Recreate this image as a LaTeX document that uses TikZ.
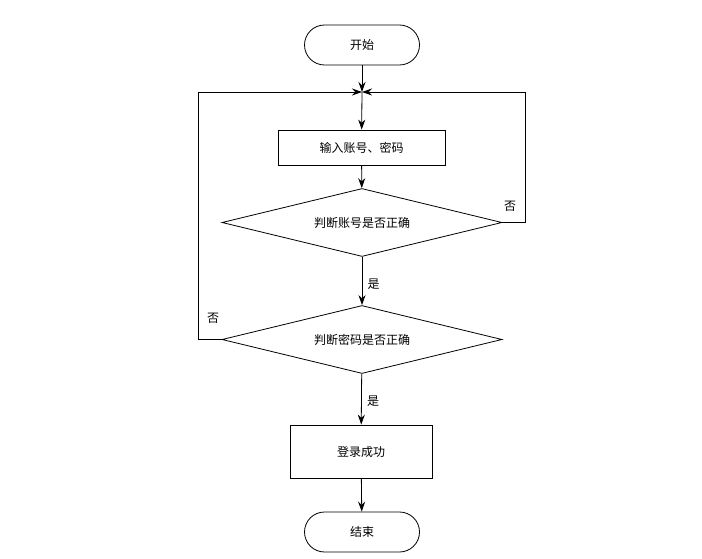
\documentclass[tikz,border=0pt]{standalone}
\usepackage{fontspec}
\setmainfont{Noto Sans CJK SC}
\usetikzlibrary{shapes.geometric,arrows.meta}
\begin{document}
\begin{tikzpicture}[x=1pt,y=-1pt,font=\fontsize{12}{14}\selectfont,
  line width=0.8pt,
  term/.style={draw,rounded corners=20pt,minimum width=115pt,minimum height=40pt},
  box/.style={draw,rectangle},
  dec/.style={draw,diamond,aspect=4.1,minimum width=280pt,minimum height=68pt,inner sep=0pt},
  arr/.style={-{Stealth[length=10pt,width=7pt]}},
  lbl/.style={font=\fontsize{12}{14}\selectfont}]
\useasboundingbox (0,0) rectangle (702,559);
\node[term] (s) at (362,45) {开始};
\coordinate (m) at (362,92);
\node[box,minimum width=167pt,minimum height=35pt] (in) at (361.5,147.5) {输入账号、密码};
\node[dec] (d1) at (362,222.5) {判断账号是否正确};
\node[dec] (d2) at (362,339.5) {判断密码是否正确};
\node[box,minimum width=142pt,minimum height=53pt] (ok) at (361,451.5) {登录成功};
\node[term] (e) at (362,532) {结束};
\coordinate (lc) at (198,92);
\coordinate (rc) at (525,92);
\draw[arr] (s) -- (m);
\draw[arr] (m) -- (in);
\draw[arr] (in) -- (d1);
\draw[arr] (d1) -- node[lbl,right,xshift=2pt,yshift=-3pt]{是} (d2);
\draw[arr] (d2) -- node[lbl,right,xshift=2pt,yshift=-2pt]{是} (ok);
\draw[arr] (ok) -- (e);
\draw[arr] (d1.east) -| (rc) -- (m);
\draw[arr] (d2.west) -| (lc) -- (m);
\node[lbl] (n1) at (510,206) {否};
\node[lbl] (n2) at (213,318) {否};
\end{tikzpicture}
\end{document}
